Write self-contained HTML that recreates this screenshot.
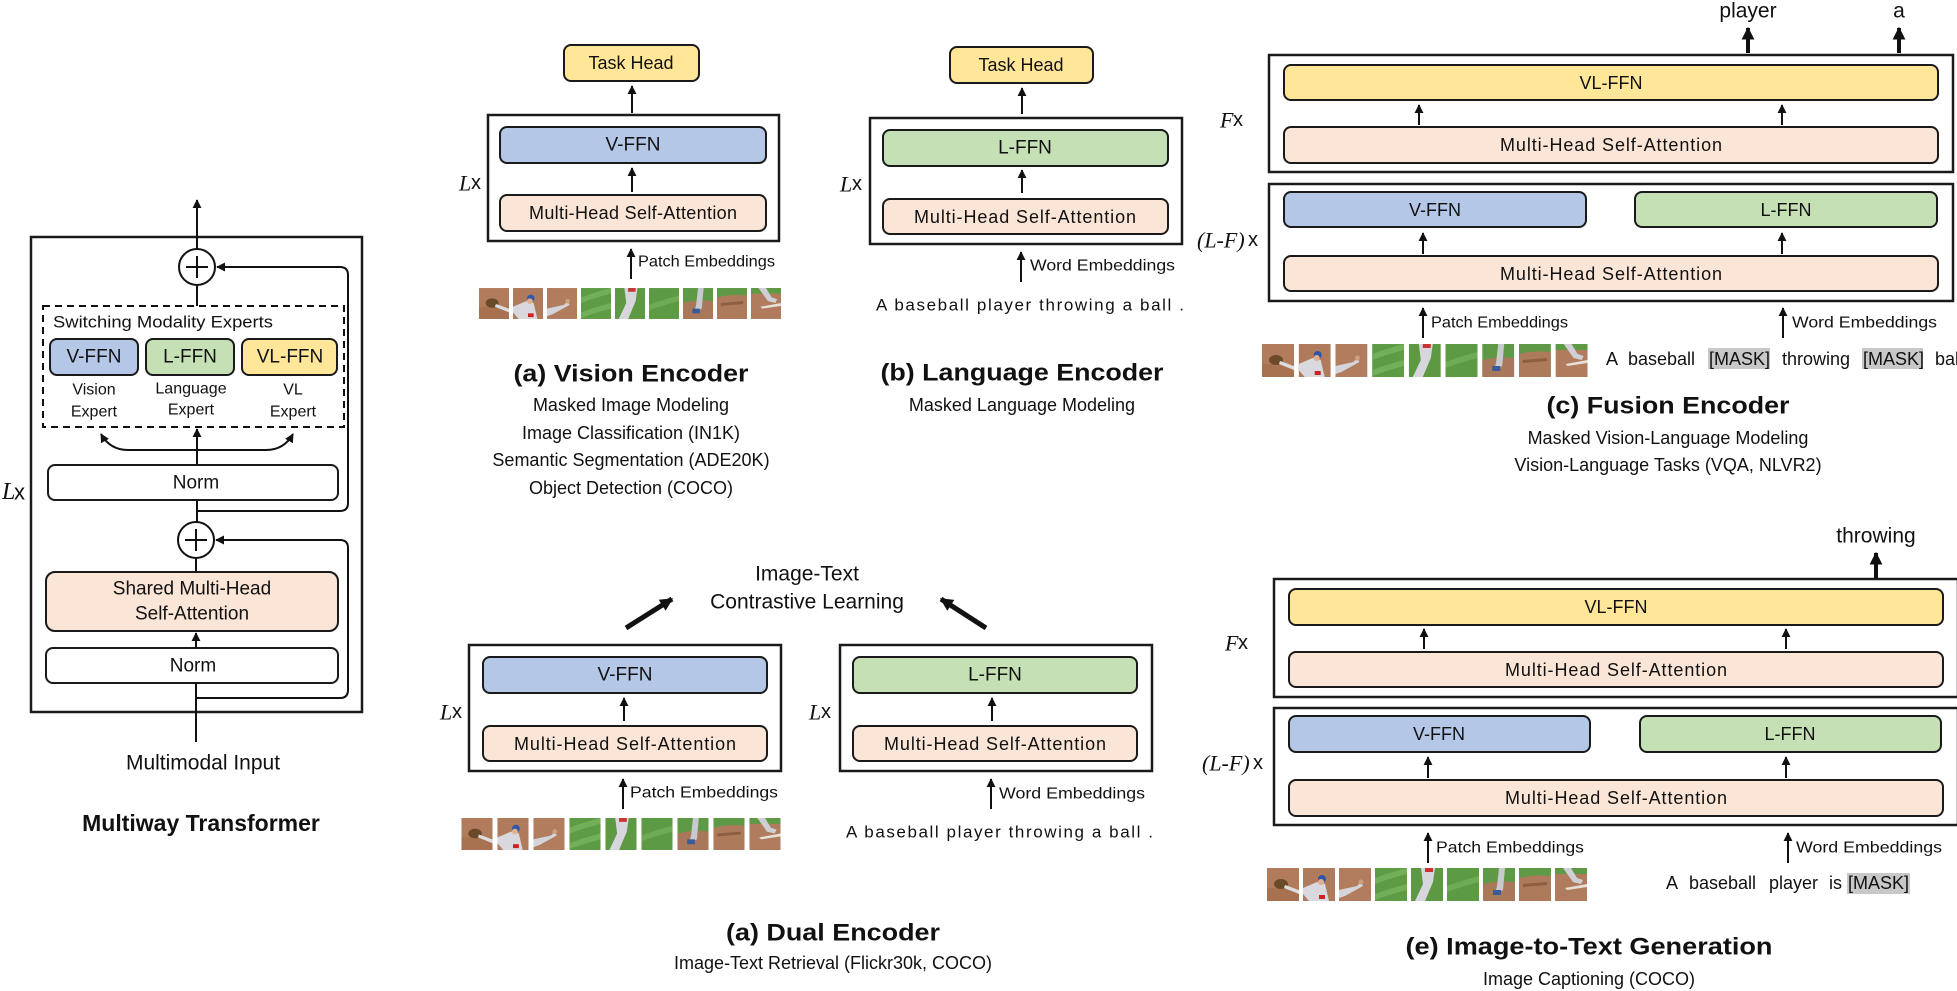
<!DOCTYPE html>
<html><head><meta charset="utf-8"><style>
html,body{margin:0;padding:0;background:#fff;}
svg{display:block;}
text{font-family:"Liberation Sans",Arial,sans-serif;fill:#111;}
.c{text-anchor:middle;dominant-baseline:central;}
.l{dominant-baseline:central;}
.b{font-weight:bold;}
.box{stroke:#1a1a1a;stroke-width:2;}
.ob{fill:none;stroke:#1a1a1a;stroke-width:2.5;}
.ln{stroke:#111;stroke-width:2;fill:none;}
.it{font-family:"Liberation Serif",serif;font-style:italic;}
</style></head><body>
<svg width="1957" height="991" viewBox="0 0 1957 991" xmlns="http://www.w3.org/2000/svg">
<defs>
<marker id="ah" viewBox="0 0 10 10" refX="9" refY="5" markerWidth="9" markerHeight="9" markerUnits="userSpaceOnUse" orient="auto"><path d="M0,0 L10,5 L0,10 z" fill="#111"/></marker>
<marker id="ahb" viewBox="0 0 10 10" refX="9" refY="5" markerWidth="13" markerHeight="15" markerUnits="userSpaceOnUse" orient="auto"><path d="M0,0 L10,5 L0,10 z" fill="#111"/></marker>
<symbol id="p1" viewBox="0 0 32 33"><rect width="32" height="33" fill="#B27C5C"/><rect y="20" width="32" height="13" fill="#A8714F"/><ellipse cx="14" cy="16" rx="7" ry="5" fill="#6B4A2A"/><path d="M18,17 L32,22 L32,26 L17,20z" fill="#ddd"/></symbol>
<symbol id="p2" viewBox="0 0 32 33"><rect width="32" height="33" fill="#B07B5C"/><path d="M0,20 L14,14 L22,16 L26,33 L6,33 L0,26z" fill="#D8D8DE"/><circle cx="19" cy="11" r="4" fill="#2F56A8"/><circle cx="18" cy="14" r="3" fill="#E0B090"/><rect x="16" y="27" width="6" height="4" fill="#C22"/></symbol>
<symbol id="p3" viewBox="0 0 32 33"><rect width="32" height="33" fill="#B27D5E"/><path d="M0,22 L18,18 L22,14 L24,18 L6,28 L0,30z" fill="#D4D4DA"/><circle cx="22" cy="14" r="2.5" fill="#C9A080"/></symbol>
<symbol id="p4" viewBox="0 0 32 33"><rect width="32" height="33" fill="#5E9B45"/><path d="M0,10 Q16,4 32,0 L32,6 Q16,10 0,16z" fill="#73AE58"/><path d="M0,26 Q16,20 32,16 L32,22 Q16,26 0,32z" fill="#73AE58"/></symbol>
<symbol id="p5" viewBox="0 0 32 33"><rect width="32" height="33" fill="#5C9942"/><path d="M10,0 L24,0 L22,14 L14,33 L4,33 L12,16z" fill="#D6D6DC"/><rect x="14" y="0" width="8" height="4" fill="#C33"/></symbol>
<symbol id="p6" viewBox="0 0 32 33"><rect width="32" height="33" fill="#5D9A44"/><path d="M0,18 Q16,12 32,8 L32,14 Q16,18 0,24z" fill="#6FAA54"/></symbol>
<symbol id="p7" viewBox="0 0 32 33"><rect width="32" height="33" fill="#5E9A45"/><path d="M0,16 Q16,12 32,14 L32,33 L0,33z" fill="#A9785A"/><path d="M16,0 L22,0 L20,22 L12,26 L14,18z" fill="#C9C9D0"/><rect x="10" y="22" width="8" height="5" fill="#3A5A9A"/></symbol>
<symbol id="p8" viewBox="0 0 32 33"><rect width="32" height="33" fill="#5E9A45"/><path d="M0,10 Q16,6 32,8 L32,33 L0,33z" fill="#AD7A5B"/><path d="M4,16 L28,14 L28,17 L4,19z" fill="#8C5E42"/></symbol>
<symbol id="p9" viewBox="0 0 32 33"><rect width="32" height="33" fill="#B07C5D"/><rect width="32" height="6" fill="#5E9A45"/><path d="M8,0 L16,0 L22,10 L28,12 L26,16 L18,14z" fill="#CFCFD5"/><path d="M10,20 L32,16 L32,19 L12,22z" fill="#E8E0D8"/></symbol>
</defs>

<!-- ================= Multiway Transformer ================= -->
<text x="2" y="492" class="l it" font-size="24">L</text><text x="14" y="492" class="l" font-size="22">x</text>
<rect x="31" y="237" width="331" height="475" class="ob"/>
<line x1="197" y1="249" x2="197" y2="200" class="ln" marker-end="url(#ah)"/>
<circle cx="197" cy="267" r="18" fill="#fff" stroke="#111" stroke-width="2"/>
<line x1="186" y1="267" x2="208" y2="267" class="ln"/><line x1="197" y1="256" x2="197" y2="278" class="ln"/>
<line x1="197" y1="285" x2="197" y2="306" class="ln"/>
<rect x="43" y="306" width="301" height="121" fill="none" stroke="#111" stroke-width="2" stroke-dasharray="7,5"/>
<text x="53" y="322" class="l" font-size="17" textLength="220" lengthAdjust="spacingAndGlyphs">Switching Modality Experts</text>
<rect x="50" y="339" width="88" height="36" rx="7" fill="#B4C7E7" class="box"/>
<text x="94" y="357" class="c" font-size="19">V-FFN</text>
<rect x="146" y="339" width="88" height="36" rx="7" fill="#C5E0B4" class="box"/>
<text x="190" y="357" class="c" font-size="19">L-FFN</text>
<rect x="242" y="339" width="95" height="36" rx="7" fill="#FFE699" class="box"/>
<text x="290" y="357" class="c" font-size="19">VL-FFN</text>
<text x="94" y="390" class="c" font-size="16">Vision</text><text x="94" y="412" class="c" font-size="16">Expert</text>
<text x="191" y="389" class="c" font-size="16">Language</text><text x="191" y="410" class="c" font-size="16">Expert</text>
<text x="293" y="390" class="c" font-size="16">VL</text><text x="293" y="412" class="c" font-size="16">Expert</text>
<line x1="197" y1="465" x2="197" y2="429" class="ln" marker-end="url(#ah)"/>
<path d="M197,450 H128 Q110,450 101,434" class="ln" marker-end="url(#ah)"/>
<path d="M197,450 H266 Q284,450 293,434" class="ln" marker-end="url(#ah)"/>
<rect x="48" y="465" width="290" height="35" rx="7" fill="#fff" class="box"/>
<text x="196" y="483" class="c" font-size="19">Norm</text>
<line x1="197" y1="500" x2="197" y2="522" class="ln"/>
<path d="M197,511 H340 Q348,511 348,503 V275 Q348,267 340,267 H217" class="ln" marker-end="url(#ah)"/>
<circle cx="196" cy="540" r="18" fill="#fff" stroke="#111" stroke-width="2"/>
<line x1="185" y1="540" x2="207" y2="540" class="ln"/><line x1="196" y1="529" x2="196" y2="551" class="ln"/>
<line x1="196" y1="558" x2="196" y2="572" class="ln"/>
<rect x="46" y="572" width="292" height="59" rx="9" fill="#FBE5D6" class="box"/>
<text x="192" y="589" class="c" font-size="19">Shared Multi-Head</text>
<text x="192" y="614" class="c" font-size="19">Self-Attention</text>
<line x1="196" y1="648" x2="196" y2="633" class="ln" marker-end="url(#ah)"/>
<rect x="46" y="648" width="292" height="35" rx="7" fill="#fff" class="box"/>
<text x="193" y="666" class="c" font-size="19">Norm</text>
<line x1="196" y1="742" x2="196" y2="683" class="ln"/>
<path d="M196,698 H340 Q348,698 348,690 V548 Q348,540 340,540 H216" class="ln" marker-end="url(#ah)"/>
<text x="203" y="763" class="c" font-size="21">Multimodal Input</text>
<text x="201" y="823" class="c b" font-size="23">Multiway Transformer</text>

<!-- ================= (a) Vision Encoder ================= -->
<rect x="564" y="45" width="135" height="36" rx="7" fill="#FFE699" class="box"/>
<text x="631" y="63" class="c" font-size="18">Task Head</text>
<line x1="632" y1="113" x2="632" y2="86" class="ln" marker-end="url(#ah)"/>
<text x="459" y="183" class="l it" font-size="22">L</text><text x="471" y="183" class="l" font-size="20">x</text>
<rect x="488" y="115" width="291" height="126" class="ob"/>
<rect x="500" y="127" width="266" height="36" rx="7" fill="#B4C7E7" class="box"/>
<text x="633" y="145" class="c" font-size="19">V-FFN</text>
<line x1="632" y1="192" x2="632" y2="168" class="ln" marker-end="url(#ah)"/>
<rect x="500" y="195" width="266" height="36" rx="7" fill="#FBE5D6" class="box"/>
<text x="633" y="213" class="c" font-size="18" textLength="208" lengthAdjust="spacing">Multi-Head Self-Attention</text>
<line x1="631" y1="279" x2="631" y2="249" class="ln" marker-end="url(#ah)"/>
<text x="638" y="262" class="l" font-size="16" textLength="137" lengthAdjust="spacingAndGlyphs">Patch Embeddings</text>
<g>
<use href="#p1" x="479" y="287" width="30" height="33"/><use href="#p2" x="513" y="287" width="30" height="33"/><use href="#p3" x="547" y="287" width="30" height="33"/>
<use href="#p4" x="581" y="287" width="30" height="33"/><use href="#p5" x="615" y="287" width="30" height="33"/><use href="#p6" x="649" y="287" width="30" height="33"/>
<use href="#p7" x="683" y="287" width="30" height="33"/><use href="#p8" x="717" y="287" width="30" height="33"/><use href="#p9" x="751" y="287" width="30" height="33"/>
</g>
<text x="631" y="374" class="c b" font-size="24" textLength="235" lengthAdjust="spacingAndGlyphs">(a) Vision Encoder</text>
<text x="631" y="405" class="c" font-size="18">Masked Image Modeling</text>
<text x="631" y="433" class="c" font-size="18">Image Classification (IN1K)</text>
<text x="631" y="460" class="c" font-size="18">Semantic Segmentation (ADE20K)</text>
<text x="631" y="488" class="c" font-size="18">Object Detection (COCO)</text>

<!-- ================= (b) Language Encoder ================= -->
<rect x="950" y="47" width="143" height="36" rx="7" fill="#FFE699" class="box"/>
<text x="1021" y="65" class="c" font-size="18">Task Head</text>
<line x1="1022" y1="114" x2="1022" y2="88" class="ln" marker-end="url(#ah)"/>
<text x="840" y="184" class="l it" font-size="22">L</text><text x="852" y="184" class="l" font-size="20">x</text>
<rect x="870" y="118" width="312" height="126" class="ob"/>
<rect x="883" y="130" width="285" height="36" rx="7" fill="#C5E0B4" class="box"/>
<text x="1025" y="148" class="c" font-size="19">L-FFN</text>
<line x1="1022" y1="193" x2="1022" y2="170" class="ln" marker-end="url(#ah)"/>
<rect x="883" y="199" width="285" height="35" rx="7" fill="#FBE5D6" class="box"/>
<text x="1025" y="217" class="c" font-size="18" textLength="222" lengthAdjust="spacing">Multi-Head Self-Attention</text>
<line x1="1021" y1="282" x2="1021" y2="252" class="ln" marker-end="url(#ah)"/>
<text x="1030" y="266" class="l" font-size="16" textLength="145" lengthAdjust="spacingAndGlyphs">Word Embeddings</text>
<text x="876" y="305" class="l" font-size="17" textLength="308" lengthAdjust="spacing">A baseball player throwing a ball .</text>
<text x="1022" y="373" class="c b" font-size="24" textLength="283" lengthAdjust="spacingAndGlyphs">(b) Language Encoder</text>
<text x="1022" y="405" class="c" font-size="18">Masked Language Modeling</text>

<!-- ================= (c) Fusion Encoder ================= -->
<text x="1748" y="11" class="c" font-size="21">player</text>
<text x="1899" y="11" class="c" font-size="21">a</text>
<line x1="1748" y1="53" x2="1748" y2="28" stroke="#111" stroke-width="4" marker-end="url(#ahb)"/>
<line x1="1899" y1="53" x2="1899" y2="28" stroke="#111" stroke-width="4" marker-end="url(#ahb)"/>
<text x="1220" y="120" class="l it" font-size="22">F</text><text x="1233" y="120" class="l" font-size="20">x</text>
<rect x="1269" y="55" width="684" height="117" class="ob"/>
<rect x="1284" y="65" width="654" height="35" rx="7" fill="#FFE699" class="box"/>
<text x="1611" y="83" class="c" font-size="18">VL-FFN</text>
<line x1="1419" y1="125" x2="1419" y2="105" class="ln" marker-end="url(#ah)"/>
<line x1="1782" y1="125" x2="1782" y2="105" class="ln" marker-end="url(#ah)"/>
<rect x="1284" y="127" width="654" height="36" rx="7" fill="#FBE5D6" class="box"/>
<text x="1611" y="145" class="c" font-size="18" textLength="222" lengthAdjust="spacing">Multi-Head Self-Attention</text>
<text x="1197" y="240" class="l it" font-size="22">(L-F)</text><text x="1248" y="240" class="l" font-size="20">x</text>
<rect x="1269" y="184" width="684" height="117" class="ob"/>
<rect x="1284" y="192" width="302" height="35" rx="7" fill="#B4C7E7" class="box"/>
<text x="1435" y="210" class="c" font-size="18">V-FFN</text>
<rect x="1635" y="192" width="302" height="35" rx="7" fill="#C5E0B4" class="box"/>
<text x="1786" y="210" class="c" font-size="18">L-FFN</text>
<line x1="1423" y1="254" x2="1423" y2="233" class="ln" marker-end="url(#ah)"/>
<line x1="1782" y1="254" x2="1782" y2="233" class="ln" marker-end="url(#ah)"/>
<rect x="1284" y="256" width="654" height="35" rx="7" fill="#FBE5D6" class="box"/>
<text x="1611" y="274" class="c" font-size="18" textLength="222" lengthAdjust="spacing">Multi-Head Self-Attention</text>
<line x1="1423" y1="338" x2="1423" y2="308" class="ln" marker-end="url(#ah)"/>
<text x="1431" y="323" class="l" font-size="16" textLength="137" lengthAdjust="spacingAndGlyphs">Patch Embeddings</text>
<line x1="1783" y1="338" x2="1783" y2="308" class="ln" marker-end="url(#ah)"/>
<text x="1792" y="323" class="l" font-size="16" textLength="145" lengthAdjust="spacingAndGlyphs">Word Embeddings</text>
<g>
<use href="#p1" x="1262" y="344" width="32" height="33"/><use href="#p2" x="1298.7" y="344" width="32" height="33"/><use href="#p3" x="1335.4" y="344" width="32" height="33"/>
<use href="#p4" x="1372.1" y="344" width="32" height="33"/><use href="#p5" x="1408.8" y="344" width="32" height="33"/><use href="#p6" x="1445.5" y="344" width="32" height="33"/>
<use href="#p7" x="1482.2" y="344" width="32" height="33"/><use href="#p8" x="1518.9" y="344" width="32" height="33"/><use href="#p9" x="1555.6" y="344" width="32" height="33"/>
</g>
<rect x="1708" y="348" width="62" height="21" fill="#C8C8C8"/>
<rect x="1862" y="348" width="61" height="21" fill="#C8C8C8"/>
<text x="1606" y="359" class="l" font-size="18">A</text>
<text x="1628" y="359" class="l" font-size="18">baseball</text>
<text x="1709" y="359" class="l" font-size="18">[MASK]</text>
<text x="1782" y="359" class="l" font-size="18">throwing</text>
<text x="1863" y="359" class="l" font-size="18">[MASK]</text>
<text x="1935" y="359" class="l" font-size="18">ball</text>
<text x="1668" y="406" class="c b" font-size="24" textLength="243" lengthAdjust="spacingAndGlyphs">(c) Fusion Encoder</text>
<text x="1668" y="438" class="c" font-size="18">Masked Vision-Language Modeling</text>
<text x="1668" y="465" class="c" font-size="18">Vision-Language Tasks (VQA, NLVR2)</text>

<!-- ================= (a) Dual Encoder ================= -->
<text x="807" y="574" class="c" font-size="21">Image-Text</text>
<text x="807" y="602" class="c" font-size="21">Contrastive Learning</text>
<line x1="626" y1="628" x2="672" y2="599" stroke="#111" stroke-width="5" marker-end="url(#ahb)"/>
<line x1="986" y1="628" x2="941" y2="599" stroke="#111" stroke-width="5" marker-end="url(#ahb)"/>
<text x="440" y="712" class="l it" font-size="22">L</text><text x="452" y="712" class="l" font-size="20">x</text>
<rect x="469" y="645" width="312" height="126" class="ob"/>
<rect x="483" y="657" width="284" height="36" rx="7" fill="#B4C7E7" class="box"/>
<text x="625" y="675" class="c" font-size="19">V-FFN</text>
<line x1="624" y1="721" x2="624" y2="698" class="ln" marker-end="url(#ah)"/>
<rect x="483" y="726" width="284" height="35" rx="7" fill="#FBE5D6" class="box"/>
<text x="625" y="744" class="c" font-size="18" textLength="222" lengthAdjust="spacing">Multi-Head Self-Attention</text>
<text x="809" y="712" class="l it" font-size="22">L</text><text x="821" y="712" class="l" font-size="20">x</text>
<rect x="840" y="645" width="312" height="126" class="ob"/>
<rect x="853" y="657" width="284" height="36" rx="7" fill="#C5E0B4" class="box"/>
<text x="995" y="675" class="c" font-size="19">L-FFN</text>
<line x1="992" y1="721" x2="992" y2="698" class="ln" marker-end="url(#ah)"/>
<rect x="853" y="726" width="284" height="35" rx="7" fill="#FBE5D6" class="box"/>
<text x="995" y="744" class="c" font-size="18" textLength="222" lengthAdjust="spacing">Multi-Head Self-Attention</text>
<line x1="623" y1="809" x2="623" y2="779" class="ln" marker-end="url(#ah)"/>
<text x="630" y="793" class="l" font-size="16" textLength="148" lengthAdjust="spacingAndGlyphs">Patch Embeddings</text>
<line x1="991" y1="809" x2="991" y2="779" class="ln" marker-end="url(#ah)"/>
<text x="999" y="794" class="l" font-size="16" textLength="146" lengthAdjust="spacingAndGlyphs">Word Embeddings</text>
<g>
<use href="#p1" x="461" y="818" width="32" height="32"/><use href="#p2" x="497" y="818" width="32" height="32"/><use href="#p3" x="533" y="818" width="32" height="32"/>
<use href="#p4" x="569" y="818" width="32" height="32"/><use href="#p5" x="605" y="818" width="32" height="32"/><use href="#p6" x="641" y="818" width="32" height="32"/>
<use href="#p7" x="677" y="818" width="32" height="32"/><use href="#p8" x="713" y="818" width="32" height="32"/><use href="#p9" x="749" y="818" width="32" height="32"/>
</g>
<text x="846" y="832" class="l" font-size="17" textLength="307" lengthAdjust="spacing">A baseball player throwing a ball .</text>
<text x="833" y="933" class="c b" font-size="24" textLength="214" lengthAdjust="spacingAndGlyphs">(a) Dual Encoder</text>
<text x="833" y="963" class="c" font-size="18">Image-Text Retrieval (Flickr30k, COCO)</text>

<!-- ================= (e) Image-to-Text Generation ================= -->
<text x="1876" y="536" class="c" font-size="21">throwing</text>
<line x1="1876" y1="578" x2="1876" y2="553" stroke="#111" stroke-width="4" marker-end="url(#ahb)"/>
<text x="1225" y="643" class="l it" font-size="22">F</text><text x="1238" y="643" class="l" font-size="20">x</text>
<rect x="1274" y="579" width="684" height="118" class="ob"/>
<rect x="1289" y="589" width="654" height="36" rx="7" fill="#FFE699" class="box"/>
<text x="1616" y="607" class="c" font-size="18">VL-FFN</text>
<line x1="1424" y1="649" x2="1424" y2="629" class="ln" marker-end="url(#ah)"/>
<line x1="1786" y1="649" x2="1786" y2="629" class="ln" marker-end="url(#ah)"/>
<rect x="1289" y="652" width="654" height="35" rx="7" fill="#FBE5D6" class="box"/>
<text x="1616" y="670" class="c" font-size="18" textLength="222" lengthAdjust="spacing">Multi-Head Self-Attention</text>
<text x="1202" y="763" class="l it" font-size="22">(L-F)</text><text x="1253" y="763" class="l" font-size="20">x</text>
<rect x="1274" y="708" width="684" height="117" class="ob"/>
<rect x="1289" y="716" width="301" height="36" rx="7" fill="#B4C7E7" class="box"/>
<text x="1439" y="734" class="c" font-size="18">V-FFN</text>
<rect x="1640" y="716" width="301" height="36" rx="7" fill="#C5E0B4" class="box"/>
<text x="1790" y="734" class="c" font-size="18">L-FFN</text>
<line x1="1428" y1="778" x2="1428" y2="757" class="ln" marker-end="url(#ah)"/>
<line x1="1786" y1="778" x2="1786" y2="757" class="ln" marker-end="url(#ah)"/>
<rect x="1289" y="780" width="654" height="36" rx="7" fill="#FBE5D6" class="box"/>
<text x="1616" y="798" class="c" font-size="18" textLength="222" lengthAdjust="spacing">Multi-Head Self-Attention</text>
<line x1="1428" y1="863" x2="1428" y2="833" class="ln" marker-end="url(#ah)"/>
<text x="1436" y="848" class="l" font-size="16" textLength="148" lengthAdjust="spacingAndGlyphs">Patch Embeddings</text>
<line x1="1788" y1="863" x2="1788" y2="833" class="ln" marker-end="url(#ah)"/>
<text x="1796" y="848" class="l" font-size="16" textLength="146" lengthAdjust="spacingAndGlyphs">Word Embeddings</text>
<g>
<use href="#p1" x="1267" y="868" width="32" height="33"/><use href="#p2" x="1303" y="868" width="32" height="33"/><use href="#p3" x="1339" y="868" width="32" height="33"/>
<use href="#p4" x="1375" y="868" width="32" height="33"/><use href="#p5" x="1411" y="868" width="32" height="33"/><use href="#p6" x="1447" y="868" width="32" height="33"/>
<use href="#p7" x="1483" y="868" width="32" height="33"/><use href="#p8" x="1519" y="868" width="32" height="33"/><use href="#p9" x="1555" y="868" width="32" height="33"/>
</g>
<rect x="1847" y="873" width="63" height="21" fill="#C8C8C8"/>
<text x="1666" y="883" class="l" font-size="18">A</text>
<text x="1689" y="883" class="l" font-size="18">baseball</text>
<text x="1769" y="883" class="l" font-size="18">player</text>
<text x="1829" y="883" class="l" font-size="18">is</text>
<text x="1848" y="883" class="l" font-size="18">[MASK]</text>
<text x="1589" y="947" class="c b" font-size="24" textLength="367" lengthAdjust="spacingAndGlyphs">(e) Image-to-Text Generation</text>
<text x="1589" y="979" class="c" font-size="18">Image Captioning (COCO)</text>
</svg>
</body></html>
